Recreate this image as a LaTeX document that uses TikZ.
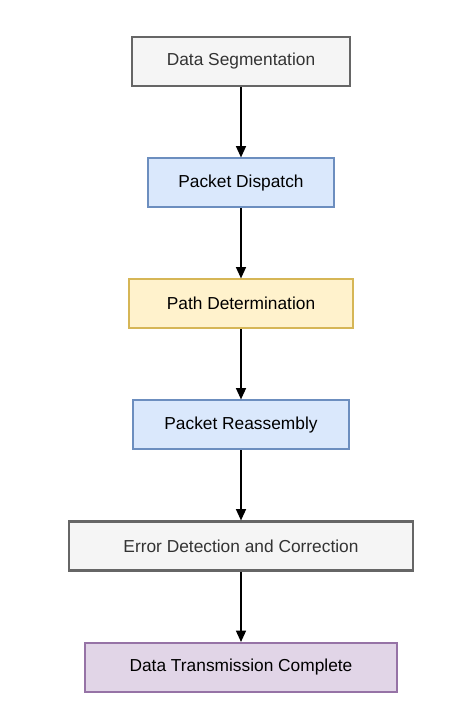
\documentclass[tikz,border=0pt]{standalone}
\usepackage{fontspec}
\setmainfont{Liberation Sans}
\usetikzlibrary{positioning,arrows.meta}
\definecolor{grayfill}{HTML}{F5F5F5}
\definecolor{grayline}{HTML}{666666}
\definecolor{bluefill}{HTML}{DAE8FC}
\definecolor{blueline}{HTML}{6C8EBF}
\definecolor{yellowfill}{HTML}{FFF2CC}
\definecolor{yellowline}{HTML}{D6B656}
\definecolor{purplefill}{HTML}{E1D5E7}
\definecolor{purpleline}{HTML}{9673A6}
\tikzset{
  stagebox/.style={rectangle, minimum height=36.5pt, inner sep=0pt, line width=1.5pt, font=\fontsize{13}{15}\selectfont},
  graybox/.style={stagebox, fill=grayfill, draw=grayline, text=black!80, line width=1.9pt},
  bluebox/.style={stagebox, fill=bluefill, draw=blueline},
  yellowbox/.style={stagebox, fill=yellowfill, draw=yellowline},
  purplebox/.style={stagebox, fill=purplefill, draw=purpleline},
  flow/.style={-{Triangle[length=8.5pt,width=7.5pt]}, line width=1.1pt}
}
\begin{document}
\begin{tikzpicture}[x=0.75pt, y=0.75pt, node distance=52.75pt]
  \useasboundingbox (0,0) rectangle (474,728);
  \node [graybox, minimum width=163.5pt] at (241,666.5) (seg) {Data Segmentation};
  \node [bluebox, minimum width=139.5pt, below=of seg] (dispatch) {Packet Dispatch};
  \node [yellowbox, minimum width=167.5pt, below=of dispatch] (path) {Path Determination};
  \node [bluebox, minimum width=162.5pt, below=of path] (reasm) {Packet Reassembly};
  \node [graybox, minimum width=258pt, below=of reasm] (error) {Error Detection and Correction};
  \node [purplebox, minimum width=234.5pt, below=of error] (done) {Data Transmission Complete};
  \path[flow] (seg) edge (dispatch)
              (dispatch) edge (path)
              (path) edge (reasm)
              (reasm) edge (error)
              (error) edge (done)
  ;
\end{tikzpicture}
\end{document}
